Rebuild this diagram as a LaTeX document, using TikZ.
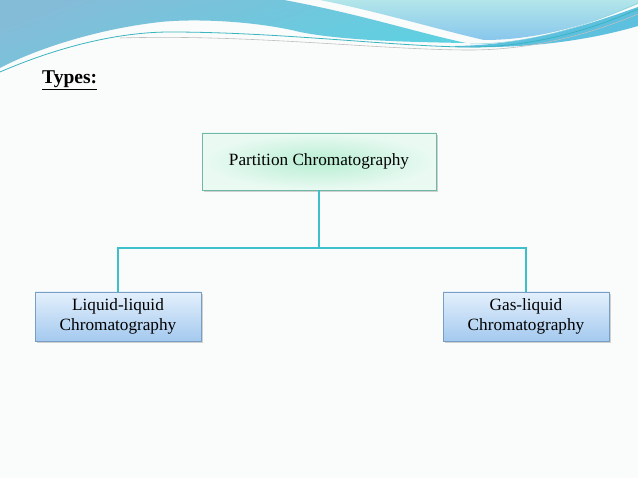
\documentclass[tikz,border=0pt]{standalone}
\usepackage{fontspec}
\newfontfamily\titlefont{Liberation Serif}
\usetikzlibrary{shadows}
\definecolor{bgc}{HTML}{FAFBFB}
\definecolor{waveA1}{HTML}{84BCD8}
\definecolor{waveA2}{HTML}{5CD2E2}
\definecolor{waveB1}{HTML}{B2E6EA}
\definecolor{waveB2}{HTML}{88C6EC}
\definecolor{waveC}{HTML}{5CC0DE}
\definecolor{thinteal}{HTML}{3AB5C0}
\definecolor{conncol}{HTML}{3CC0CC}
\definecolor{topin}{HTML}{B8EED2}
\definecolor{topout}{HTML}{EAFAF3}
\definecolor{topborder}{HTML}{6FB8A8}
\definecolor{botlight}{HTML}{E4F0FC}
\definecolor{botdark}{HTML}{A4C9EF}
\definecolor{botborder}{HTML}{7A9EC0}
\tikzset{
  pbox/.style={draw=topborder, line width=0.8pt, inner sep=0pt,
    minimum width=234pt, minimum height=57pt, inner color=topin, outer color=topout,
    drop shadow={shadow xshift=2pt, shadow yshift=-2.5pt, opacity=0.35},
    font=\titlefont\fontsize{17.2}{20}\selectfont, align=center},
  cbox/.style={draw=botborder, line width=0.8pt, inner sep=0pt,
    minimum width=166pt, minimum height=49pt, top color=botlight, bottom color=botdark,
    drop shadow={shadow xshift=2pt, shadow yshift=-2.5pt, opacity=0.35},
    font=\titlefont\fontsize{17.2}{20}\selectfont, align=center},
  conn/.style={draw=conncol, line width=2pt}
}
\begin{document}
\begin{tikzpicture}[x=1pt,y=-1pt]
\useasboundingbox (0,0) rectangle (638,478);
\fill[bgc] (0,0) rectangle (638,478);
% header waves
\shade[top color=waveA1, bottom color=waveA2, shading angle=20]
  (0,0) -- (284,0) .. controls (360,14) and (415,32) .. (466,43)
  .. controls (400,42) and (340,40) .. (300,32)
  .. controls (260,22) and (200,18) .. (160,22)
  .. controls (90,30) and (30,52) .. (0,68) -- cycle;
\shade[top color=waveB1, bottom color=waveB2]
  (320,0) -- (638,0) -- (638,4) .. controls (590,24) and (540,40) .. (484,40)
  .. controls (440,30) and (380,12) .. (320,0) -- cycle;
\fill[waveC]
  (455,46) .. controls (530,45) and (590,24) .. (638,7) -- (638,26)
  .. controls (590,40) and (530,49) .. (455,47) -- cycle;
\draw[thinteal, line width=0.8pt]
  (0,72) .. controls (60,46) and (120,32) .. (170,32)
  .. controls (280,32) and (400,47) .. (470,47)
  .. controls (540,47) and (600,26) .. (638,9);
\draw[gray!50, line width=0.6pt]
  (120,38) .. controls (250,34) and (380,50) .. (470,50)
  .. controls (540,50) and (600,30) .. (638,14);
\draw[thinteal!60, line width=0.5pt]
  (470,44) .. controls (540,44) and (600,20) .. (638,3);
% title
\node[anchor=base west, inner sep=0pt, font=\titlefont\bfseries\fontsize{19.5}{22}\selectfont] (title) at (42,84) {\underline{Types:}};
% boxes
\node[pbox] (top) at (319,161.5) {Partition Chromatography};
\node[cbox] (left) at (118,316.5) {Liquid-liquid\\Chromatography};
\node[cbox] (right) at (526,316.5) {Gas-liquid\\Chromatography};
% connectors
\coordinate (bar) at (319,248);
\draw[conn] (top.south) -- (bar);
\draw[conn] (left.north) |- (bar) -| (right.north);
\end{tikzpicture}
\end{document}
